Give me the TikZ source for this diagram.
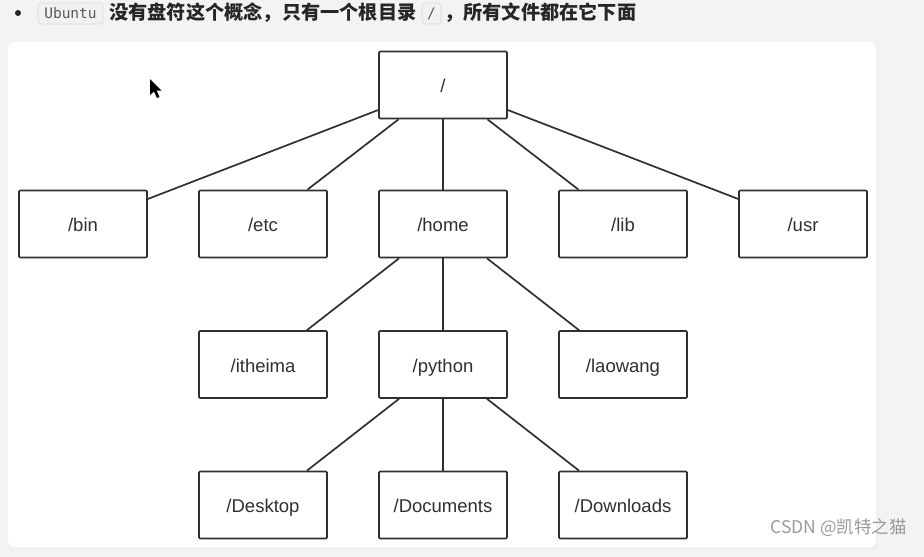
\documentclass[tikz,border=0pt]{standalone}
\usepackage{fontspec}
\setmainfont{Liberation Sans}
\setmonofont{DejaVu Sans Mono}
\newfontfamily\cjk{Noto Sans CJK SC}
\definecolor{bg}{HTML}{F3F3F3}
\definecolor{ink}{HTML}{303030}
\definecolor{codebg}{HTML}{F1F1F1}
\definecolor{codeln}{HTML}{DCDCDC}
\definecolor{wm}{HTML}{9A9A9A}
\begin{document}
\begin{tikzpicture}[x=1pt,y=-1pt,
  dirbox/.style={draw=ink,line width=1.7pt,fill=white,minimum width=128pt,minimum height=67pt,inner sep=0pt,
     rounded corners=1pt,font=\fontsize{18.5}{20}\selectfont,text=ink,text height=17pt,text depth=2pt},
  link/.style={draw=ink,line width=1.7pt},
  codebox/.style={draw=codeln,fill=codebg,rounded corners=3pt,line width=0.8pt},
  hdr/.style={font=\cjk\bfseries\fontsize{19.2}{20}\selectfont,text=black!85,inner sep=0pt,anchor=west}]
\useasboundingbox (0,0) rectangle (924,557);
\fill[bg] (0,0) rectangle (924,557);
% panel
\fill[black!6,rounded corners=5pt] (7,41) rectangle (878,549);
\fill[white,rounded corners=5pt] (8,42) rectangle (876,547);
% header
\fill[black!85] (18,13) circle (3pt);
\draw[codebox] (38,3) rectangle (103,24);
\node[font=\ttfamily\fontsize{14.5}{15}\selectfont,text=black!65,inner sep=0pt] (ub) at (70.5,13.5) {Ubuntu};
\node[hdr] (t1) at (109,13) {没有盘符这个概念，只有一个根目录};
\draw[codebox] (422,3) rectangle (441,24);
\node[font=\ttfamily\fontsize{14.5}{15}\selectfont,text=black!65,inner sep=0pt] (sl) at (431.5,13.5) {/};
\node[hdr] (t2) at (444,13) {，所有文件都在它下面};
% cursor
\fill[black] (150,79) -- (150,95) -- (154,91.5) -- (157,98) -- (159.5,97) -- (156.5,90.5) -- (161.5,90.5) -- cycle;
% tree
\node[dirbox] (root) at (443,85) {/};
\node[dirbox] (bin) at (83,224) {/bin};
\node[dirbox] (etc) at (263,224) {/etc};
\node[dirbox] (home) at (443,224) {/home};
\node[dirbox] (lib) at (623,224) {/lib};
\node[dirbox] (usr) at (803,224) {/usr};
\node[dirbox] (itheima) at (263,364.5) {/itheima};
\node[dirbox] (python) at (443,364.5) {/python};
\node[dirbox] (laowang) at (623,364.5) {/laowang};
\node[dirbox] (desktop) at (263,505) {/Desktop};
\node[dirbox] (documents) at (443,505) {/Documents};
\node[dirbox] (downloads) at (623,505) {/Downloads};
\foreach \c in {bin,etc,home,lib,usr} \draw[link] (root) -- (\c);
\foreach \c in {itheima,python,laowang} \draw[link] (home) -- (\c);
\foreach \c in {desktop,documents,downloads} \draw[link] (python) -- (\c);
% watermark
\node[font=\cjk\fontsize{17.5}{18}\selectfont,text=wm,inner sep=0pt,anchor=east] (wmk) at (907,528) {CSDN @凯特之猫};
\end{tikzpicture}
\end{document}
